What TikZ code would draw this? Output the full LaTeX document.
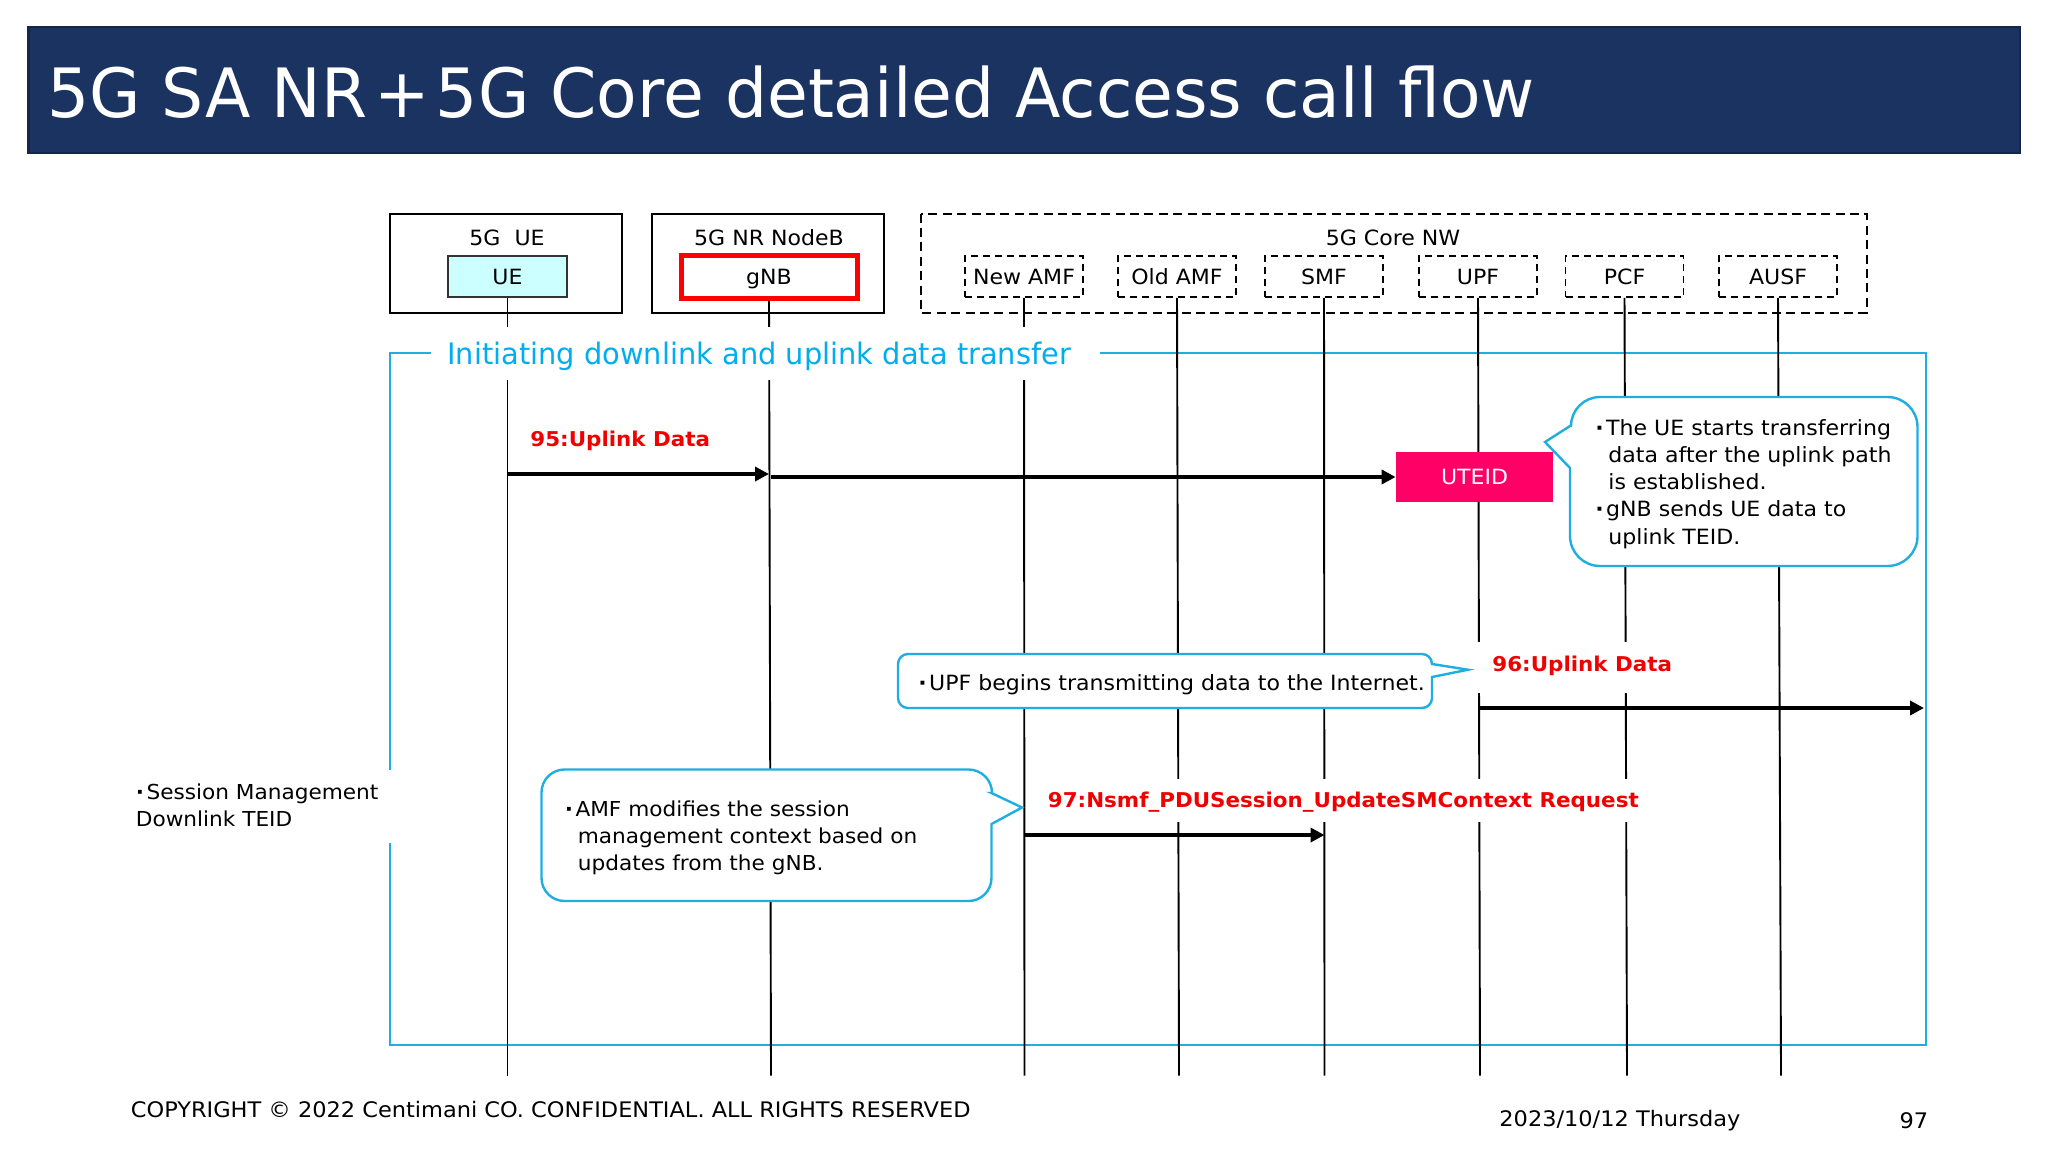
\documentclass[tikz,border=0pt]{standalone}
\usepackage{fontspec}
\usetikzlibrary{arrows.meta}
\setmainfont[FakeStretch=1.05]{DejaVu Sans}
\newfontfamily\titlefont[FakeStretch=0.975]{DejaVu Sans}
\definecolor{titleblue}{HTML}{1B3360}
\definecolor{titleedge}{HTML}{14264A}
\definecolor{framecyan}{HTML}{1FAEE0}
\definecolor{labelcyan}{HTML}{00AEEF}
\definecolor{uefill}{HTML}{CCFFFF}
\definecolor{uteidpink}{HTML}{FF0066}
\definecolor{msgred}{HTML}{F00000}
\newcommand{\bul}{{\bfseries·}\hspace{1.2pt}}
\tikzset{
    titlebar/.style={draw=titleedge, fill=titleblue, line width=1.2pt},
    hostbox/.style={draw, line width=1pt, minimum width=116pt, minimum height=49.5pt},
    hosttext/.style={inner sep=0pt, font=\fontsize{10.5}{12}\selectfont},
    nfbox/.style={draw, dash pattern=on 3.5pt off 2.5pt, line width=0.9pt, minimum width=59pt, minimum height=20.5pt, inner sep=0pt, font=\fontsize{10.5}{12}\selectfont},
    bodytext/.style={inner sep=0pt, align=left, anchor=north west, font=\fontsize{10.5}{13.6}\selectfont},
    smalltext/.style={bodytext, font=\fontsize{10.3}{13.6}\selectfont},
    msgtext/.style={inner sep=0pt, anchor=west, text=msgred, font=\fontsize{10.2}{12}\selectfont\bfseries},
    foottext/.style={inner sep=0pt, font=\fontsize{10.7}{12}\selectfont},
    lifeline/.style={line width=0.95pt},
    msgline/.style={-{Triangle[length=7pt,width=7pt]}, line width=2pt},
    callout/.style={draw=framecyan, fill=white, line width=1.2pt}
}
\begin{document}
\begin{tikzpicture}[x=0.5pt, y=-0.5pt]
    \useasboundingbox (0,0) rectangle (2048,1152);

    % title
    \draw[titlebar] (28.5,27) rectangle (2020,153);
    \node[anchor=west, inner sep=0pt, text=white, font=\titlefont\fontsize{34}{40}\selectfont] (title) at (47,92) {5G SA NR\hspace{3.5pt}+\hspace{3pt}5G Core detailed Access call flow};

    % host boxes
    \node[hostbox] (uehost) at (506,263.5) {};
    \node[hostbox] (gnbhost) at (768,263.5) {};
    \draw[dash pattern=on 4.5pt off 2.7pt, line width=1pt] (921,213.5) rectangle (1866.5,313);
    \node[hosttext] (uename) at (507,238) {5G\ \ UE};
    \node[hosttext] (gnbname) at (769,238) {5G NR NodeB};
    \node[hosttext] (corenw) at (1393,238) {5G Core NW};
    \node[hostbox, draw=black!80, fill=uefill, minimum width=59.5pt, minimum height=20.5pt, inner sep=0pt, font=\fontsize{10.5}{12}\selectfont] (ue) at (507.5,276.5) {UE};
    \node[hostbox, draw=red, line width=2.5pt, minimum width=88pt, minimum height=21.5pt, inner sep=0pt, text height=7.6pt, text depth=0pt, font=\fontsize{10.5}{12}\selectfont] (gnb) at (769,276.5) {gNB};
    \node[nfbox] (newamf) at (1024,276.5) {New AMF};
    \node[nfbox] (oldamf) at (1177,276.5) {Old AMF};
    \node[nfbox] (smf) at (1324,276.5) {SMF};
    \node[nfbox] (upf) at (1478,276.5) {UPF};
    \node[nfbox] (pcf) at (1624.5,276.5) {PCF};
    \node[nfbox] (ausf) at (1778,276.5) {AUSF};

    % frame
    \draw[draw=framecyan, line width=1.1pt] (390,353) rectangle (1926,1045);

    % lifelines
    \coordinate (ue_end) at (507.5,1075.5);
    \coordinate (gnb_end) at (771,1075.5);
    \coordinate (newamf_end) at (1024.5,1075.5);
    \coordinate (oldamf_end) at (1179,1075.5);
    \coordinate (smf_end) at (1324.5,1075.5);
    \coordinate (upf_end) at (1480,1075.5);
    \coordinate (pcf_end) at (1627,1075.5);
    \coordinate (ausf_end) at (1781,1075.5);
    \draw[lifeline] (ue.south) -- (ue_end);
    \draw[lifeline] (gnb.south) -- (gnb_end);
    \draw[lifeline] (newamf.south) -- (newamf_end);
    \draw[lifeline] (oldamf.south) -- (oldamf_end);
    \draw[lifeline] (smf.south) -- (smf_end);
    \draw[lifeline] (upf.south) -- (upf_end);
    \draw[lifeline] (pcf.south) -- (pcf_end);
    \draw[lifeline] (ausf.south) -- (ausf_end);

    % white gaps behind the texts
    \fill[white] (431,326.6) rectangle (1100,379.5);
    \fill[white] (1450,642) rectangle (1700,693);
    \fill[white] (1040,779) rectangle (1660,822);
    \fill[white] (120,769.5) rectangle (395,843);

    \node[anchor=west, inner sep=0pt, text=labelcyan, font=\titlefont\fontsize{14.8}{18}\selectfont] (flow) at (447,356) {Initiating downlink and uplink data transfer};

    % messages
    \node[fill=uteidpink, text=white, minimum width=78.5pt, minimum height=25pt, inner sep=0pt, font=\fontsize{10.5}{12}\selectfont] (uteid) at (1474.5,477) {UTEID};
    \coordinate (m95_a) at (507.5,474);
    \coordinate (m95_b) at (769,474);
    \coordinate (m95_c) at (771,477);
    \coordinate (m96_a) at (1479,708);
    \coordinate (m96_b) at (1924,708);
    \coordinate (m97_a) at (1024,835);
    \coordinate (m97_b) at (1324.5,835);
    \draw[msgline] (m95_a) -- (m95_b);
    \draw[msgline] (m95_c) -- (uteid.west);
    \draw[msgline] (m96_a) -- (m96_b);
    \draw[msgline] (m97_a) -- (m97_b);
    \node[msgtext] (l95) at (530,441) {95:Uplink Data};
    \node[msgtext] (l96) at (1492,666) {96:Uplink Data};
    \node[msgtext] (l97) at (1047.5,802) {97:Nsmf\_PDUSession\_UpdateSMContext Request};

    % callouts
    \draw[callout] (1570,426) -- (1545,442) -- (1570,468) -- (1570,536) arc[start angle=180, end angle=270, radius=15pt] -- (1887.5,566) arc[start angle=270, end angle=360, radius=15pt] -- (1917.5,427) arc[start angle=0, end angle=90, radius=15pt] -- (1600,397) arc[start angle=90, end angle=180, radius=14.5pt] -- cycle;
    \node[bodytext] (n1) at (1595,419) {\bul The UE starts transferring\\\hspace{6.5pt}data after the uplink path\\\hspace{6.5pt}is established.\\\bul gNB sends UE data to\\\hspace{6.5pt}uplink TEID.};
    \draw[callout] (1432,664) -- (1468,669.7) -- (1432,677) -- (1432,698) arc[start angle=0, end angle=-90, radius=5pt] -- (908,708) arc[start angle=270, end angle=180, radius=5pt] -- (898,664) arc[start angle=180, end angle=90, radius=5pt] -- (1422,654) arc[start angle=90, end angle=0, radius=5pt] -- cycle;
    \node[bodytext] (n2) at (918,674) {\bul UPF begins transmitting data to the Internet.};
    \draw[callout] (991.5,793) -- (1022,807.5) -- (991.5,824) -- (991.5,878) arc[start angle=0, end angle=-90, radius=11.5pt] -- (564.5,901) arc[start angle=270, end angle=180, radius=11.5pt] -- (541.5,792.5) arc[start angle=180, end angle=90, radius=11.5pt] -- (968.5,769.5) arc[start angle=90, end angle=0, radius=11.75pt] -- cycle;
    \node[smalltext] (n3) at (564.5,800) {\bul AMF modifies the session\\\hspace{6.5pt}management context based on\\\hspace{6.5pt}updates from the gNB.};
    \node[smalltext] (n4) at (135.5,783) {\bul Session Management\\Downlink TEID};

    % footer
    \node[foottext, anchor=west] (copy) at (130.5,1109) {COPYRIGHT © 2022 Centimani CO. CONFIDENTIAL. ALL RIGHTS RESERVED};
    \node[foottext, anchor=west] (date) at (1499,1121) {2023/10/12 Thursday};
    \node[foottext, anchor=east] (page) at (1928.5,1121) {97};
\end{tikzpicture}
\end{document}
